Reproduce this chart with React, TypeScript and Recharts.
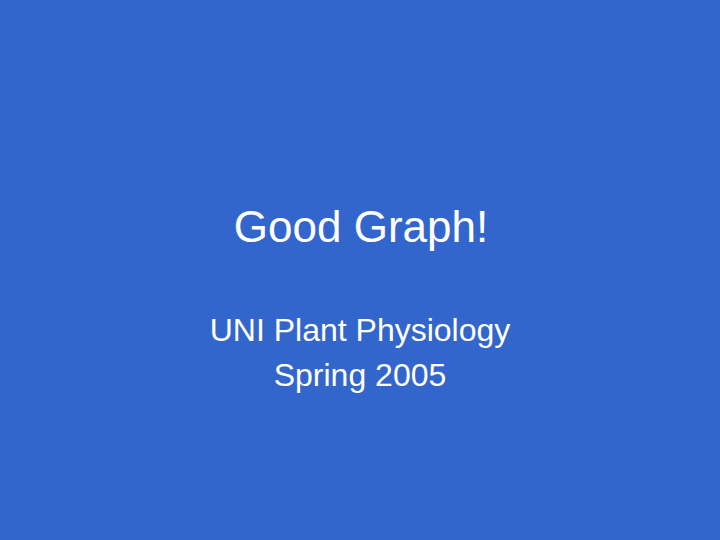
import { Surface, Layer, Text } from 'recharts'

// slide text, top to bottom
const titleLines = ['Good Graph!']
const subtitleLines = ['UNI Plant Physiology', 'Spring 2005']

const WIDTH = 720
const HEIGHT = 540
const BG = '#3366cc'

export default function App() {
  return (
    <div style={{ position: 'absolute', top: 0, left: 0, width: WIDTH, height: HEIGHT }}>
      <Surface width={WIDTH} height={HEIGHT}>
        <rect x={0} y={0} width={WIDTH} height={HEIGHT} fill={BG} />
        <Layer>
          {titleLines.map((line, i) => (
            <Text
              key={line}
              x={361}
              y={242 + i * 52}
              textAnchor="middle"
              fill="#ffffff"
              fontFamily="'Liberation Sans', Arial, sans-serif"
              fontSize={44}
            >
              {line}
            </Text>
          ))}
        </Layer>
        <Layer>
          {subtitleLines.map((line, i) => (
            <Text
              key={line}
              x={360}
              y={341 + i * 45}
              textAnchor="middle"
              fill="#ffffff"
              fontFamily="'Liberation Sans', Arial, sans-serif"
              fontSize={32}
            >
              {line}
            </Text>
          ))}
        </Layer>
      </Surface>
    </div>
  )
}
